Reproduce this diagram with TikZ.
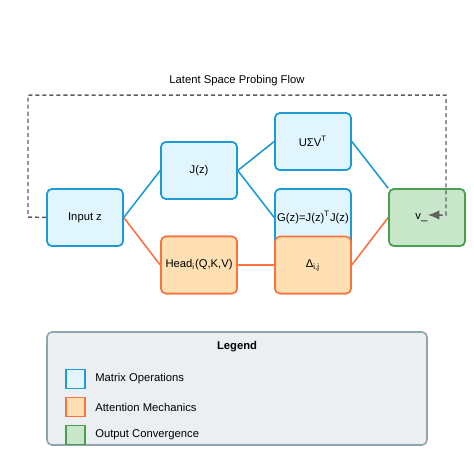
\documentclass[tikz,border=0pt]{standalone}
\usepackage{fontspec}
\setmainfont{Liberation Sans}
\usepackage{tikz}
\usetikzlibrary{
  positioning,
  arrows.meta,
  arrows
}
\usepackage{xcolor}
\definecolor{matfill}{HTML}{E1F5FE}
\definecolor{matline}{HTML}{1E9AD6}
\definecolor{attfill}{HTML}{FFE0B2}
\definecolor{attline}{HTML}{F7733F}
\definecolor{outfill}{HTML}{C8E6C9}
\definecolor{outline}{HTML}{48A04C}
\definecolor{keyfill}{HTML}{ECEFF1}
\definecolor{keyline}{HTML}{90A4AE}
\definecolor{loopline}{HTML}{5F5F5F}

\tikzset{
  stage/.style={draw,rounded corners=2.8pt,line width=0.9pt,
    minimum width=1.52cm,minimum height=1.14cm,inner sep=1pt,
    font=\fontsize{6.4}{7.6}\selectfont},
  matbox/.style={fill=matfill,draw=matline},
  attbox/.style={fill=attfill,draw=attline},
  outbox/.style={fill=outfill,draw=outline},
  link/.style={line width=0.9pt},
  swatch/.style={draw,line width=0.7pt,minimum size=0.38cm,inner sep=0pt},
  keytext/.style={anchor=west,inner sep=0pt,font=\fontsize{6.4}{7.6}\selectfont}
}

\begin{document}
\begin{tikzpicture}[x=0.02cm,y=-0.02cm,>=latex']
  \useasboundingbox (0,0) rectangle (474,474);
  \coordinate (loopL) at (28,217);
  \coordinate (loopR) at (446,95);
  \coordinate (loopE) at (428,215);
  \node[font=\fontsize{6.4}{7.6}\selectfont] (title) at (237,81) {Latent Space Probing Flow};
  % place the stages, links go under them
  \node[stage,matbox] (in) at (85,217.5) {Input z};
  \node[stage,matbox] (jac) at (199,170.5) {J(z)};
  \node[stage,attbox] (head) at (199,265) {Head\textsubscript{i}(Q,K,V)};
  \node[stage,matbox] (svd) at (313,141.5) {UΣV\textsuperscript{T}};
  \node[stage,matbox] (gram) at (313,217.5) {G(z)=J(z)\textsuperscript{T}J(z)};
  \node[stage,attbox] (delta) at (313,265) {Δ\textsubscript{i,j}};
  \node[stage,outbox] (vout) at (427,217.5) {v\_\phantom{xx}};
  \draw[link,matline] (in.east) -- (jac.west);
  \draw[link,attline] (in.east) -- (head.west);
  \draw[link,matline] (jac.east) -- (svd.west);
  \draw[link,matline] (jac.east) -- (gram.west);
  \draw[link,attline] (head.east) -- (delta.west);
  \draw[link,matline] (svd.east) -- (vout.north west);
  \draw[link,attline] (delta.east) -- (vout.west);
  % redraw boxes over the links
  \node[stage,matbox] at (in) {Input z};
  \node[stage,matbox] at (jac) {J(z)};
  \node[stage,attbox] at (head) {Head\textsubscript{i}(Q,K,V)};
  \node[stage,matbox] at (svd) {UΣV\textsuperscript{T}};
  \node[stage,matbox] at (gram) {G(z)=J(z)\textsuperscript{T}J(z)};
  \node[stage,attbox] at (delta) {Δ\textsubscript{i,j}};
  \node[stage,outbox] at (vout) {v\_\phantom{xx}};
  \draw[-{Latex[length=6.5pt,width=5.5pt]},loopline,line width=0.85pt,dash pattern=on 2.3pt off 1.7pt]
    (in.west) -- (loopL) |- (loopR) |- (loopE);

  % legend
  \node[draw=keyline,fill=keyfill,rounded corners=2.8pt,line width=0.9pt,
    minimum width=7.6cm,minimum height=2.26cm] (legend) at (237,388.5) {};
  \node[font=\bfseries\fontsize{6.4}{7.6}\selectfont] (legtitle) at (237,347) {Legend};
  \node[swatch,matbox] (keymat) at (75.5,379) {};
  \node[swatch,attbox] (keyatt) at (75.5,407) {};
  \node[swatch,outbox] (keyout) at (75.5,435) {};
  \node[keytext] at (95,379) {Matrix Operations};
  \node[keytext] at (95,407) {Attention Mechanics};
  \node[keytext] at (95,435) {Output Convergence};
\end{tikzpicture}
\end{document}
